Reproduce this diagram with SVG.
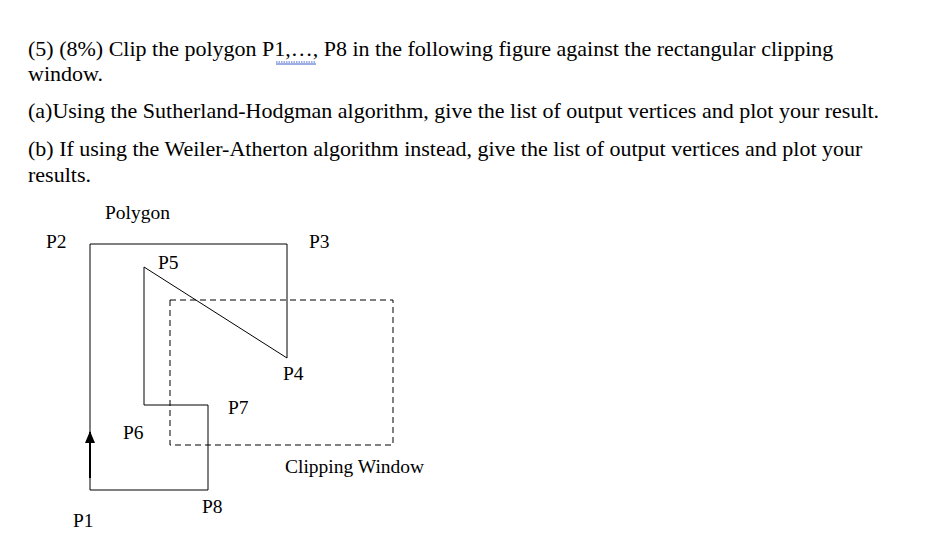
<svg xmlns="http://www.w3.org/2000/svg" width="931" height="553" viewBox="0 0 931 553">
<style>
.t{font-family:"Liberation Serif",serif;font-size:22px;fill:#000}
.l{font-family:"Liberation Serif",serif;font-size:19.5px;fill:#000}
.s{fill:none;stroke:#000;stroke-width:1}
</style>
<defs><marker id="ah" markerWidth="12" markerHeight="10" refX="11" refY="5" orient="auto" markerUnits="userSpaceOnUse"><path d="M0,0 L12,5 L0,10 Z" fill="#000"/></marker></defs>
<rect width="931" height="553" fill="#fff"/>
<g id="text">
<text class="t" x="28" y="56">(5) (8%) Clip the polygon P1,…, P8 in the following figure against the rectangular clipping</text>
<text class="t" x="28" y="81">window.</text>
<text class="t" x="28" y="118">(a)Using the Sutherland-Hodgman algorithm, give the list of output vertices and  plot your result.</text>
<text class="t" x="28" y="156">(b) If using the Weiler-Atherton algorithm instead, give the list of output vertices and plot your</text>
<text class="t" x="28" y="182">results.</text>
<line x1="276" y1="62" x2="316" y2="62" stroke="#3b5fc9" stroke-width="1" stroke-dasharray="1.5,1"/>
<line x1="276" y1="64" x2="316" y2="64" stroke="#3b5fc9" stroke-width="1"/>
</g>
<g id="polygon"><path class="s" d="M90,490 L90,244 L287,244 L287,358 L144,267 L144,405 L208,405 L208,490 Z"/></g>
<g id="window"><rect class="s" x="170" y="300" width="223" height="145" stroke-dasharray="6,4"/></g>
<g id="connectors"><line x1="90" y1="478" x2="90" y2="432" stroke="#000" stroke-width="2" marker-end="url(#ah)"/></g>
<g id="labels">
<text class="l" x="105" y="219">Polygon</text>
<text class="l" x="46" y="248">P2</text>
<text class="l" x="309" y="248">P3</text>
<text class="l" x="158" y="269">P5</text>
<text class="l" x="283" y="380">P4</text>
<text class="l" x="228" y="414">P7</text>
<text class="l" x="123" y="439">P6</text>
<text class="l" x="285" y="473">Clipping Window</text>
<text class="l" x="202" y="513">P8</text>
<text class="l" x="73" y="527">P1</text>
</g>
</svg>
